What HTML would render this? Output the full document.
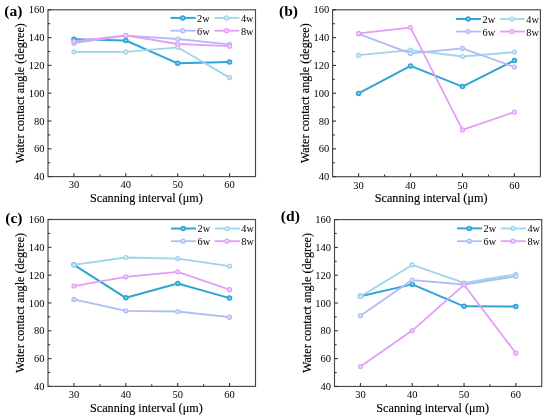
<!DOCTYPE html>
<html><head><meta charset="utf-8"><style>
html,body{margin:0;padding:0;background:#fff;width:550px;height:419px;overflow:hidden}
svg{display:block;font-family:'Liberation Serif', serif;will-change:transform}
text{fill:#000} .t{stroke:#000;stroke-width:0.15px}
</style></head><body>
<svg width="550" height="419" viewBox="0 0 550 419"><rect width="550" height="419" fill="#fff"/><g><polyline points="73.94,39.30 125.81,40.50 177.69,63.30 229.56,61.90" fill="none" stroke="#2ea5d6" stroke-width="2.0" stroke-linejoin="round"/><circle cx="73.94" cy="39.30" r="1.9" fill="#a1d6ed" stroke="#2ea5d6" stroke-width="1.7"/><circle cx="125.81" cy="40.50" r="1.9" fill="#a1d6ed" stroke="#2ea5d6" stroke-width="1.7"/><circle cx="177.69" cy="63.30" r="1.9" fill="#a1d6ed" stroke="#2ea5d6" stroke-width="1.7"/><circle cx="229.56" cy="61.90" r="1.9" fill="#a1d6ed" stroke="#2ea5d6" stroke-width="1.7"/><polyline points="73.94,51.80 125.81,51.90 177.69,47.30 229.56,77.60" fill="none" stroke="#9ed4ec" stroke-width="1.8" stroke-linejoin="round"/><circle cx="73.94" cy="51.80" r="2.0" fill="#d3ecf6" stroke="#9ed4ec" stroke-width="1.2"/><circle cx="125.81" cy="51.90" r="2.0" fill="#d3ecf6" stroke="#9ed4ec" stroke-width="1.2"/><circle cx="177.69" cy="47.30" r="2.0" fill="#d3ecf6" stroke="#9ed4ec" stroke-width="1.2"/><circle cx="229.56" cy="77.60" r="2.0" fill="#d3ecf6" stroke="#9ed4ec" stroke-width="1.2"/><polyline points="73.94,43.20 125.81,35.60 177.69,39.00 229.56,44.40" fill="none" stroke="#aebcf7" stroke-width="1.8" stroke-linejoin="round"/><circle cx="73.94" cy="43.20" r="2.0" fill="#dbe1fb" stroke="#aebcf7" stroke-width="1.2"/><circle cx="125.81" cy="35.60" r="2.0" fill="#dbe1fb" stroke="#aebcf7" stroke-width="1.2"/><circle cx="177.69" cy="39.00" r="2.0" fill="#dbe1fb" stroke="#aebcf7" stroke-width="1.2"/><circle cx="229.56" cy="44.40" r="2.0" fill="#dbe1fb" stroke="#aebcf7" stroke-width="1.2"/><polyline points="73.94,41.50 125.81,35.40 177.69,44.00 229.56,46.20" fill="none" stroke="#e39ef6" stroke-width="1.8" stroke-linejoin="round"/><circle cx="73.94" cy="41.50" r="2.0" fill="#f2d3fb" stroke="#e39ef6" stroke-width="1.2"/><circle cx="125.81" cy="35.40" r="2.0" fill="#f2d3fb" stroke="#e39ef6" stroke-width="1.2"/><circle cx="177.69" cy="44.00" r="2.0" fill="#f2d3fb" stroke="#e39ef6" stroke-width="1.2"/><circle cx="229.56" cy="46.20" r="2.0" fill="#f2d3fb" stroke="#e39ef6" stroke-width="1.2"/><rect x="48.0" y="9.8" width="207.50" height="166.80" fill="none" stroke="#484848" stroke-width="1.15"/><line x1="48.0" y1="176.60" x2="51.4" y2="176.60" stroke="#333" stroke-width="1.1"/><text x="44.60" y="180.20" text-anchor="end" font-size="10.5">40</text><line x1="48.0" y1="162.70" x2="50.2" y2="162.70" stroke="#333" stroke-width="1.1"/><line x1="48.0" y1="148.80" x2="51.4" y2="148.80" stroke="#333" stroke-width="1.1"/><text x="44.60" y="152.40" text-anchor="end" font-size="10.5">60</text><line x1="48.0" y1="134.90" x2="50.2" y2="134.90" stroke="#333" stroke-width="1.1"/><line x1="48.0" y1="121.00" x2="51.4" y2="121.00" stroke="#333" stroke-width="1.1"/><text x="44.60" y="124.60" text-anchor="end" font-size="10.5">80</text><line x1="48.0" y1="107.10" x2="50.2" y2="107.10" stroke="#333" stroke-width="1.1"/><line x1="48.0" y1="93.20" x2="51.4" y2="93.20" stroke="#333" stroke-width="1.1"/><text x="44.60" y="96.80" text-anchor="end" font-size="10.5">100</text><line x1="48.0" y1="79.30" x2="50.2" y2="79.30" stroke="#333" stroke-width="1.1"/><line x1="48.0" y1="65.40" x2="51.4" y2="65.40" stroke="#333" stroke-width="1.1"/><text x="44.60" y="69.00" text-anchor="end" font-size="10.5">120</text><line x1="48.0" y1="51.50" x2="50.2" y2="51.50" stroke="#333" stroke-width="1.1"/><line x1="48.0" y1="37.60" x2="51.4" y2="37.60" stroke="#333" stroke-width="1.1"/><text x="44.60" y="41.20" text-anchor="end" font-size="10.5">140</text><line x1="48.0" y1="23.70" x2="50.2" y2="23.70" stroke="#333" stroke-width="1.1"/><line x1="48.0" y1="9.80" x2="51.4" y2="9.80" stroke="#333" stroke-width="1.1"/><text x="44.60" y="13.40" text-anchor="end" font-size="10.5">160</text><line x1="73.94" y1="176.6" x2="73.94" y2="173.2" stroke="#333" stroke-width="1.1"/><text x="73.94" y="188.40" text-anchor="middle" font-size="10.5">30</text><line x1="99.88" y1="176.6" x2="99.88" y2="174.4" stroke="#333" stroke-width="1.1"/><line x1="125.81" y1="176.6" x2="125.81" y2="173.2" stroke="#333" stroke-width="1.1"/><text x="125.81" y="188.40" text-anchor="middle" font-size="10.5">40</text><line x1="151.75" y1="176.6" x2="151.75" y2="174.4" stroke="#333" stroke-width="1.1"/><line x1="177.69" y1="176.6" x2="177.69" y2="173.2" stroke="#333" stroke-width="1.1"/><text x="177.69" y="188.40" text-anchor="middle" font-size="10.5">50</text><line x1="203.62" y1="176.6" x2="203.62" y2="174.4" stroke="#333" stroke-width="1.1"/><line x1="229.56" y1="176.6" x2="229.56" y2="173.2" stroke="#333" stroke-width="1.1"/><text x="229.56" y="188.40" text-anchor="middle" font-size="10.5">60</text><text x="146.35" y="202.30" text-anchor="middle" font-size="12.2" class="t">Scanning interval (μm)</text><text transform="translate(24.40,93.20) rotate(-90)" text-anchor="middle" font-size="12.2" class="t">Water contact angle (degree)</text><text x="4.30" y="16.00" font-size="15.6" font-weight="bold">(a)</text><line x1="170.50" y1="17.90" x2="195.60" y2="17.90" stroke="#2ea5d6" stroke-width="2.0"/><circle cx="182.80" cy="17.90" r="1.9" fill="#a1d6ed" stroke="#2ea5d6" stroke-width="1.7"/><text x="197.10" y="21.80" font-size="10.3">2w</text><line x1="214.30" y1="17.90" x2="239.40" y2="17.90" stroke="#9ed4ec" stroke-width="1.8"/><circle cx="226.60" cy="17.90" r="2.0" fill="#d3ecf6" stroke="#9ed4ec" stroke-width="1.2"/><text x="240.90" y="21.80" font-size="10.3">4w</text><line x1="170.50" y1="30.70" x2="195.60" y2="30.70" stroke="#aebcf7" stroke-width="1.8"/><circle cx="182.80" cy="30.70" r="2.0" fill="#dbe1fb" stroke="#aebcf7" stroke-width="1.2"/><text x="197.10" y="34.60" font-size="10.3">6w</text><line x1="214.30" y1="30.70" x2="239.40" y2="30.70" stroke="#e39ef6" stroke-width="1.8"/><circle cx="226.60" cy="30.70" r="2.0" fill="#f2d3fb" stroke="#e39ef6" stroke-width="1.2"/><text x="240.90" y="34.60" font-size="10.3">8w</text></g><g><polyline points="358.58,93.40 410.52,65.90 462.48,86.60 514.42,60.50" fill="none" stroke="#2ea5d6" stroke-width="2.0" stroke-linejoin="round"/><circle cx="358.58" cy="93.40" r="1.9" fill="#a1d6ed" stroke="#2ea5d6" stroke-width="1.7"/><circle cx="410.52" cy="65.90" r="1.9" fill="#a1d6ed" stroke="#2ea5d6" stroke-width="1.7"/><circle cx="462.48" cy="86.60" r="1.9" fill="#a1d6ed" stroke="#2ea5d6" stroke-width="1.7"/><circle cx="514.42" cy="60.50" r="1.9" fill="#a1d6ed" stroke="#2ea5d6" stroke-width="1.7"/><polyline points="358.58,55.20 410.52,50.10 462.48,56.50 514.42,52.10" fill="none" stroke="#9ed4ec" stroke-width="1.8" stroke-linejoin="round"/><circle cx="358.58" cy="55.20" r="2.0" fill="#d3ecf6" stroke="#9ed4ec" stroke-width="1.2"/><circle cx="410.52" cy="50.10" r="2.0" fill="#d3ecf6" stroke="#9ed4ec" stroke-width="1.2"/><circle cx="462.48" cy="56.50" r="2.0" fill="#d3ecf6" stroke="#9ed4ec" stroke-width="1.2"/><circle cx="514.42" cy="52.10" r="2.0" fill="#d3ecf6" stroke="#9ed4ec" stroke-width="1.2"/><polyline points="358.58,33.80 410.52,53.40 462.48,48.30 514.42,67.00" fill="none" stroke="#aebcf7" stroke-width="1.8" stroke-linejoin="round"/><circle cx="358.58" cy="33.80" r="2.0" fill="#dbe1fb" stroke="#aebcf7" stroke-width="1.2"/><circle cx="410.52" cy="53.40" r="2.0" fill="#dbe1fb" stroke="#aebcf7" stroke-width="1.2"/><circle cx="462.48" cy="48.30" r="2.0" fill="#dbe1fb" stroke="#aebcf7" stroke-width="1.2"/><circle cx="514.42" cy="67.00" r="2.0" fill="#dbe1fb" stroke="#aebcf7" stroke-width="1.2"/><polyline points="358.58,33.40 410.52,27.60 462.48,129.90 514.42,112.10" fill="none" stroke="#e39ef6" stroke-width="1.8" stroke-linejoin="round"/><circle cx="358.58" cy="33.40" r="2.0" fill="#f2d3fb" stroke="#e39ef6" stroke-width="1.2"/><circle cx="410.52" cy="27.60" r="2.0" fill="#f2d3fb" stroke="#e39ef6" stroke-width="1.2"/><circle cx="462.48" cy="129.90" r="2.0" fill="#f2d3fb" stroke="#e39ef6" stroke-width="1.2"/><circle cx="514.42" cy="112.10" r="2.0" fill="#f2d3fb" stroke="#e39ef6" stroke-width="1.2"/><rect x="332.6" y="9.8" width="207.80" height="166.90" fill="none" stroke="#484848" stroke-width="1.15"/><line x1="332.6" y1="176.70" x2="336.0" y2="176.70" stroke="#333" stroke-width="1.1"/><text x="329.20" y="180.30" text-anchor="end" font-size="10.5">40</text><line x1="332.6" y1="162.79" x2="334.8" y2="162.79" stroke="#333" stroke-width="1.1"/><line x1="332.6" y1="148.88" x2="336.0" y2="148.88" stroke="#333" stroke-width="1.1"/><text x="329.20" y="152.48" text-anchor="end" font-size="10.5">60</text><line x1="332.6" y1="134.97" x2="334.8" y2="134.97" stroke="#333" stroke-width="1.1"/><line x1="332.6" y1="121.07" x2="336.0" y2="121.07" stroke="#333" stroke-width="1.1"/><text x="329.20" y="124.67" text-anchor="end" font-size="10.5">80</text><line x1="332.6" y1="107.16" x2="334.8" y2="107.16" stroke="#333" stroke-width="1.1"/><line x1="332.6" y1="93.25" x2="336.0" y2="93.25" stroke="#333" stroke-width="1.1"/><text x="329.20" y="96.85" text-anchor="end" font-size="10.5">100</text><line x1="332.6" y1="79.34" x2="334.8" y2="79.34" stroke="#333" stroke-width="1.1"/><line x1="332.6" y1="65.43" x2="336.0" y2="65.43" stroke="#333" stroke-width="1.1"/><text x="329.20" y="69.03" text-anchor="end" font-size="10.5">120</text><line x1="332.6" y1="51.53" x2="334.8" y2="51.53" stroke="#333" stroke-width="1.1"/><line x1="332.6" y1="37.62" x2="336.0" y2="37.62" stroke="#333" stroke-width="1.1"/><text x="329.20" y="41.22" text-anchor="end" font-size="10.5">140</text><line x1="332.6" y1="23.71" x2="334.8" y2="23.71" stroke="#333" stroke-width="1.1"/><line x1="332.6" y1="9.80" x2="336.0" y2="9.80" stroke="#333" stroke-width="1.1"/><text x="329.20" y="13.40" text-anchor="end" font-size="10.5">160</text><line x1="358.58" y1="176.7" x2="358.58" y2="173.29999999999998" stroke="#333" stroke-width="1.1"/><text x="358.58" y="188.50" text-anchor="middle" font-size="10.5">30</text><line x1="384.55" y1="176.7" x2="384.55" y2="174.5" stroke="#333" stroke-width="1.1"/><line x1="410.52" y1="176.7" x2="410.52" y2="173.29999999999998" stroke="#333" stroke-width="1.1"/><text x="410.52" y="188.50" text-anchor="middle" font-size="10.5">40</text><line x1="436.50" y1="176.7" x2="436.50" y2="174.5" stroke="#333" stroke-width="1.1"/><line x1="462.48" y1="176.7" x2="462.48" y2="173.29999999999998" stroke="#333" stroke-width="1.1"/><text x="462.48" y="188.50" text-anchor="middle" font-size="10.5">50</text><line x1="488.45" y1="176.7" x2="488.45" y2="174.5" stroke="#333" stroke-width="1.1"/><line x1="514.42" y1="176.7" x2="514.42" y2="173.29999999999998" stroke="#333" stroke-width="1.1"/><text x="514.42" y="188.50" text-anchor="middle" font-size="10.5">60</text><text x="431.10" y="202.40" text-anchor="middle" font-size="12.2" class="t">Scanning interval (μm)</text><text transform="translate(309.00,93.25) rotate(-90)" text-anchor="middle" font-size="12.2" class="t">Water contact angle (degree)</text><text x="279.00" y="16.20" font-size="15.6" font-weight="bold">(b)</text><line x1="455.90" y1="19.00" x2="481.00" y2="19.00" stroke="#2ea5d6" stroke-width="2.0"/><circle cx="468.20" cy="19.00" r="1.9" fill="#a1d6ed" stroke="#2ea5d6" stroke-width="1.7"/><text x="482.50" y="22.90" font-size="10.3">2w</text><line x1="499.70" y1="19.00" x2="524.80" y2="19.00" stroke="#9ed4ec" stroke-width="1.8"/><circle cx="512.00" cy="19.00" r="2.0" fill="#d3ecf6" stroke="#9ed4ec" stroke-width="1.2"/><text x="526.30" y="22.90" font-size="10.3">4w</text><line x1="455.90" y1="31.60" x2="481.00" y2="31.60" stroke="#aebcf7" stroke-width="1.8"/><circle cx="468.20" cy="31.60" r="2.0" fill="#dbe1fb" stroke="#aebcf7" stroke-width="1.2"/><text x="482.50" y="35.50" font-size="10.3">6w</text><line x1="499.70" y1="31.60" x2="524.80" y2="31.60" stroke="#e39ef6" stroke-width="1.8"/><circle cx="512.00" cy="31.60" r="2.0" fill="#f2d3fb" stroke="#e39ef6" stroke-width="1.2"/><text x="526.30" y="35.50" font-size="10.3">8w</text></g><g><polyline points="73.94,264.80 125.81,297.80 177.69,283.50 229.56,298.10" fill="none" stroke="#2ea5d6" stroke-width="2.0" stroke-linejoin="round"/><circle cx="73.94" cy="264.80" r="1.9" fill="#a1d6ed" stroke="#2ea5d6" stroke-width="1.7"/><circle cx="125.81" cy="297.80" r="1.9" fill="#a1d6ed" stroke="#2ea5d6" stroke-width="1.7"/><circle cx="177.69" cy="283.50" r="1.9" fill="#a1d6ed" stroke="#2ea5d6" stroke-width="1.7"/><circle cx="229.56" cy="298.10" r="1.9" fill="#a1d6ed" stroke="#2ea5d6" stroke-width="1.7"/><polyline points="73.94,264.80 125.81,257.50 177.69,258.60 229.56,266.20" fill="none" stroke="#9ed4ec" stroke-width="1.8" stroke-linejoin="round"/><circle cx="73.94" cy="264.80" r="2.0" fill="#d3ecf6" stroke="#9ed4ec" stroke-width="1.2"/><circle cx="125.81" cy="257.50" r="2.0" fill="#d3ecf6" stroke="#9ed4ec" stroke-width="1.2"/><circle cx="177.69" cy="258.60" r="2.0" fill="#d3ecf6" stroke="#9ed4ec" stroke-width="1.2"/><circle cx="229.56" cy="266.20" r="2.0" fill="#d3ecf6" stroke="#9ed4ec" stroke-width="1.2"/><polyline points="73.94,299.40 125.81,310.80 177.69,311.50 229.56,317.20" fill="none" stroke="#aebcf7" stroke-width="1.8" stroke-linejoin="round"/><circle cx="73.94" cy="299.40" r="2.0" fill="#dbe1fb" stroke="#aebcf7" stroke-width="1.2"/><circle cx="125.81" cy="310.80" r="2.0" fill="#dbe1fb" stroke="#aebcf7" stroke-width="1.2"/><circle cx="177.69" cy="311.50" r="2.0" fill="#dbe1fb" stroke="#aebcf7" stroke-width="1.2"/><circle cx="229.56" cy="317.20" r="2.0" fill="#dbe1fb" stroke="#aebcf7" stroke-width="1.2"/><polyline points="73.94,286.10 125.81,276.80 177.69,271.80 229.56,289.70" fill="none" stroke="#e39ef6" stroke-width="1.8" stroke-linejoin="round"/><circle cx="73.94" cy="286.10" r="2.0" fill="#f2d3fb" stroke="#e39ef6" stroke-width="1.2"/><circle cx="125.81" cy="276.80" r="2.0" fill="#f2d3fb" stroke="#e39ef6" stroke-width="1.2"/><circle cx="177.69" cy="271.80" r="2.0" fill="#f2d3fb" stroke="#e39ef6" stroke-width="1.2"/><circle cx="229.56" cy="289.70" r="2.0" fill="#f2d3fb" stroke="#e39ef6" stroke-width="1.2"/><rect x="48.0" y="219.5" width="207.50" height="166.90" fill="none" stroke="#484848" stroke-width="1.15"/><line x1="48.0" y1="386.40" x2="51.4" y2="386.40" stroke="#333" stroke-width="1.1"/><text x="44.60" y="390.00" text-anchor="end" font-size="10.5">40</text><line x1="48.0" y1="372.49" x2="50.2" y2="372.49" stroke="#333" stroke-width="1.1"/><line x1="48.0" y1="358.58" x2="51.4" y2="358.58" stroke="#333" stroke-width="1.1"/><text x="44.60" y="362.18" text-anchor="end" font-size="10.5">60</text><line x1="48.0" y1="344.67" x2="50.2" y2="344.67" stroke="#333" stroke-width="1.1"/><line x1="48.0" y1="330.77" x2="51.4" y2="330.77" stroke="#333" stroke-width="1.1"/><text x="44.60" y="334.37" text-anchor="end" font-size="10.5">80</text><line x1="48.0" y1="316.86" x2="50.2" y2="316.86" stroke="#333" stroke-width="1.1"/><line x1="48.0" y1="302.95" x2="51.4" y2="302.95" stroke="#333" stroke-width="1.1"/><text x="44.60" y="306.55" text-anchor="end" font-size="10.5">100</text><line x1="48.0" y1="289.04" x2="50.2" y2="289.04" stroke="#333" stroke-width="1.1"/><line x1="48.0" y1="275.13" x2="51.4" y2="275.13" stroke="#333" stroke-width="1.1"/><text x="44.60" y="278.73" text-anchor="end" font-size="10.5">120</text><line x1="48.0" y1="261.23" x2="50.2" y2="261.23" stroke="#333" stroke-width="1.1"/><line x1="48.0" y1="247.32" x2="51.4" y2="247.32" stroke="#333" stroke-width="1.1"/><text x="44.60" y="250.92" text-anchor="end" font-size="10.5">140</text><line x1="48.0" y1="233.41" x2="50.2" y2="233.41" stroke="#333" stroke-width="1.1"/><line x1="48.0" y1="219.50" x2="51.4" y2="219.50" stroke="#333" stroke-width="1.1"/><text x="44.60" y="223.10" text-anchor="end" font-size="10.5">160</text><line x1="73.94" y1="386.4" x2="73.94" y2="383.0" stroke="#333" stroke-width="1.1"/><text x="73.94" y="398.20" text-anchor="middle" font-size="10.5">30</text><line x1="99.88" y1="386.4" x2="99.88" y2="384.2" stroke="#333" stroke-width="1.1"/><line x1="125.81" y1="386.4" x2="125.81" y2="383.0" stroke="#333" stroke-width="1.1"/><text x="125.81" y="398.20" text-anchor="middle" font-size="10.5">40</text><line x1="151.75" y1="386.4" x2="151.75" y2="384.2" stroke="#333" stroke-width="1.1"/><line x1="177.69" y1="386.4" x2="177.69" y2="383.0" stroke="#333" stroke-width="1.1"/><text x="177.69" y="398.20" text-anchor="middle" font-size="10.5">50</text><line x1="203.62" y1="386.4" x2="203.62" y2="384.2" stroke="#333" stroke-width="1.1"/><line x1="229.56" y1="386.4" x2="229.56" y2="383.0" stroke="#333" stroke-width="1.1"/><text x="229.56" y="398.20" text-anchor="middle" font-size="10.5">60</text><text x="146.35" y="412.10" text-anchor="middle" font-size="12.2" class="t">Scanning interval (μm)</text><text transform="translate(24.40,302.95) rotate(-90)" text-anchor="middle" font-size="12.2" class="t">Water contact angle (degree)</text><text x="5.20" y="223.20" font-size="15.6" font-weight="bold">(c)</text><line x1="170.90" y1="228.50" x2="196.00" y2="228.50" stroke="#2ea5d6" stroke-width="2.0"/><circle cx="183.20" cy="228.50" r="1.9" fill="#a1d6ed" stroke="#2ea5d6" stroke-width="1.7"/><text x="197.50" y="232.40" font-size="10.3">2w</text><line x1="214.70" y1="228.50" x2="239.80" y2="228.50" stroke="#9ed4ec" stroke-width="1.8"/><circle cx="227.00" cy="228.50" r="2.0" fill="#d3ecf6" stroke="#9ed4ec" stroke-width="1.2"/><text x="241.30" y="232.40" font-size="10.3">4w</text><line x1="170.90" y1="241.20" x2="196.00" y2="241.20" stroke="#aebcf7" stroke-width="1.8"/><circle cx="183.20" cy="241.20" r="2.0" fill="#dbe1fb" stroke="#aebcf7" stroke-width="1.2"/><text x="197.50" y="245.10" font-size="10.3">6w</text><line x1="214.70" y1="241.20" x2="239.80" y2="241.20" stroke="#e39ef6" stroke-width="1.8"/><circle cx="227.00" cy="241.20" r="2.0" fill="#f2d3fb" stroke="#e39ef6" stroke-width="1.2"/><text x="241.30" y="245.10" font-size="10.3">8w</text></g><g><polyline points="360.41,296.30 412.22,284.40 464.03,306.30 515.84,306.50" fill="none" stroke="#2ea5d6" stroke-width="2.0" stroke-linejoin="round"/><circle cx="360.41" cy="296.30" r="1.9" fill="#a1d6ed" stroke="#2ea5d6" stroke-width="1.7"/><circle cx="412.22" cy="284.40" r="1.9" fill="#a1d6ed" stroke="#2ea5d6" stroke-width="1.7"/><circle cx="464.03" cy="306.30" r="1.9" fill="#a1d6ed" stroke="#2ea5d6" stroke-width="1.7"/><circle cx="515.84" cy="306.50" r="1.9" fill="#a1d6ed" stroke="#2ea5d6" stroke-width="1.7"/><polyline points="360.41,296.50 412.22,264.90 464.03,282.90 515.84,274.30" fill="none" stroke="#9ed4ec" stroke-width="1.8" stroke-linejoin="round"/><circle cx="360.41" cy="296.50" r="2.0" fill="#d3ecf6" stroke="#9ed4ec" stroke-width="1.2"/><circle cx="412.22" cy="264.90" r="2.0" fill="#d3ecf6" stroke="#9ed4ec" stroke-width="1.2"/><circle cx="464.03" cy="282.90" r="2.0" fill="#d3ecf6" stroke="#9ed4ec" stroke-width="1.2"/><circle cx="515.84" cy="274.30" r="2.0" fill="#d3ecf6" stroke="#9ed4ec" stroke-width="1.2"/><polyline points="360.41,315.70 412.22,280.10 464.03,284.50 515.84,276.30" fill="none" stroke="#aebcf7" stroke-width="1.8" stroke-linejoin="round"/><circle cx="360.41" cy="315.70" r="2.0" fill="#dbe1fb" stroke="#aebcf7" stroke-width="1.2"/><circle cx="412.22" cy="280.10" r="2.0" fill="#dbe1fb" stroke="#aebcf7" stroke-width="1.2"/><circle cx="464.03" cy="284.50" r="2.0" fill="#dbe1fb" stroke="#aebcf7" stroke-width="1.2"/><circle cx="515.84" cy="276.30" r="2.0" fill="#dbe1fb" stroke="#aebcf7" stroke-width="1.2"/><polyline points="360.41,366.60 412.22,330.60 464.03,284.80 515.84,353.20" fill="none" stroke="#e39ef6" stroke-width="1.8" stroke-linejoin="round"/><circle cx="360.41" cy="366.60" r="2.0" fill="#f2d3fb" stroke="#e39ef6" stroke-width="1.2"/><circle cx="412.22" cy="330.60" r="2.0" fill="#f2d3fb" stroke="#e39ef6" stroke-width="1.2"/><circle cx="464.03" cy="284.80" r="2.0" fill="#f2d3fb" stroke="#e39ef6" stroke-width="1.2"/><circle cx="515.84" cy="353.20" r="2.0" fill="#f2d3fb" stroke="#e39ef6" stroke-width="1.2"/><rect x="334.5" y="219.6" width="207.25" height="166.85" fill="none" stroke="#484848" stroke-width="1.15"/><line x1="334.5" y1="386.45" x2="337.9" y2="386.45" stroke="#333" stroke-width="1.1"/><text x="331.10" y="390.05" text-anchor="end" font-size="10.5">40</text><line x1="334.5" y1="372.55" x2="336.7" y2="372.55" stroke="#333" stroke-width="1.1"/><line x1="334.5" y1="358.64" x2="337.9" y2="358.64" stroke="#333" stroke-width="1.1"/><text x="331.10" y="362.24" text-anchor="end" font-size="10.5">60</text><line x1="334.5" y1="344.74" x2="336.7" y2="344.74" stroke="#333" stroke-width="1.1"/><line x1="334.5" y1="330.83" x2="337.9" y2="330.83" stroke="#333" stroke-width="1.1"/><text x="331.10" y="334.43" text-anchor="end" font-size="10.5">80</text><line x1="334.5" y1="316.93" x2="336.7" y2="316.93" stroke="#333" stroke-width="1.1"/><line x1="334.5" y1="303.02" x2="337.9" y2="303.02" stroke="#333" stroke-width="1.1"/><text x="331.10" y="306.62" text-anchor="end" font-size="10.5">100</text><line x1="334.5" y1="289.12" x2="336.7" y2="289.12" stroke="#333" stroke-width="1.1"/><line x1="334.5" y1="275.22" x2="337.9" y2="275.22" stroke="#333" stroke-width="1.1"/><text x="331.10" y="278.82" text-anchor="end" font-size="10.5">120</text><line x1="334.5" y1="261.31" x2="336.7" y2="261.31" stroke="#333" stroke-width="1.1"/><line x1="334.5" y1="247.41" x2="337.9" y2="247.41" stroke="#333" stroke-width="1.1"/><text x="331.10" y="251.01" text-anchor="end" font-size="10.5">140</text><line x1="334.5" y1="233.50" x2="336.7" y2="233.50" stroke="#333" stroke-width="1.1"/><line x1="334.5" y1="219.60" x2="337.9" y2="219.60" stroke="#333" stroke-width="1.1"/><text x="331.10" y="223.20" text-anchor="end" font-size="10.5">160</text><line x1="360.41" y1="386.45" x2="360.41" y2="383.05" stroke="#333" stroke-width="1.1"/><text x="360.41" y="398.25" text-anchor="middle" font-size="10.5">30</text><line x1="386.31" y1="386.45" x2="386.31" y2="384.25" stroke="#333" stroke-width="1.1"/><line x1="412.22" y1="386.45" x2="412.22" y2="383.05" stroke="#333" stroke-width="1.1"/><text x="412.22" y="398.25" text-anchor="middle" font-size="10.5">40</text><line x1="438.12" y1="386.45" x2="438.12" y2="384.25" stroke="#333" stroke-width="1.1"/><line x1="464.03" y1="386.45" x2="464.03" y2="383.05" stroke="#333" stroke-width="1.1"/><text x="464.03" y="398.25" text-anchor="middle" font-size="10.5">50</text><line x1="489.94" y1="386.45" x2="489.94" y2="384.25" stroke="#333" stroke-width="1.1"/><line x1="515.84" y1="386.45" x2="515.84" y2="383.05" stroke="#333" stroke-width="1.1"/><text x="515.84" y="398.25" text-anchor="middle" font-size="10.5">60</text><text x="432.73" y="412.15" text-anchor="middle" font-size="12.2" class="t">Scanning interval (μm)</text><text transform="translate(310.90,303.02) rotate(-90)" text-anchor="middle" font-size="12.2" class="t">Water contact angle (degree)</text><text x="280.80" y="221.00" font-size="15.6" font-weight="bold">(d)</text><line x1="457.00" y1="228.40" x2="482.10" y2="228.40" stroke="#2ea5d6" stroke-width="2.0"/><circle cx="469.30" cy="228.40" r="1.9" fill="#a1d6ed" stroke="#2ea5d6" stroke-width="1.7"/><text x="483.60" y="232.30" font-size="10.3">2w</text><line x1="500.80" y1="228.40" x2="525.90" y2="228.40" stroke="#9ed4ec" stroke-width="1.8"/><circle cx="513.10" cy="228.40" r="2.0" fill="#d3ecf6" stroke="#9ed4ec" stroke-width="1.2"/><text x="527.40" y="232.30" font-size="10.3">4w</text><line x1="457.00" y1="241.20" x2="482.10" y2="241.20" stroke="#aebcf7" stroke-width="1.8"/><circle cx="469.30" cy="241.20" r="2.0" fill="#dbe1fb" stroke="#aebcf7" stroke-width="1.2"/><text x="483.60" y="245.10" font-size="10.3">6w</text><line x1="500.80" y1="241.20" x2="525.90" y2="241.20" stroke="#e39ef6" stroke-width="1.8"/><circle cx="513.10" cy="241.20" r="2.0" fill="#f2d3fb" stroke="#e39ef6" stroke-width="1.2"/><text x="527.40" y="245.10" font-size="10.3">8w</text></g></svg>
</body></html>
